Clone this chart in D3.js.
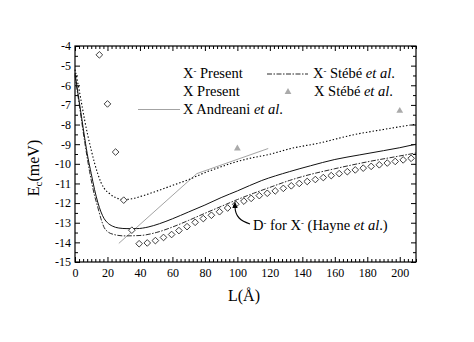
<!DOCTYPE html>
<html><head><meta charset="utf-8">
<script src="https://cdn.jsdelivr.net/npm/d3@7"></script>
<style>body{margin:0;background:#fff} svg text{font-family:"Liberation Serif","Times New Roman",Times,serif;}</style>
</head><body><svg id="c" width="474" height="342"></svg>
<script>
// ---- data ----
const xMinusPresentL = [0,2,4,6,8,10,12,14,16,18,20,23,27,32,38,45,52,60,70,80,90,100,115,132,145,160,175,190,200,210];
const xMinusPresentE = [-5.4,-6.5,-7.6,-8.7,-9.7,-10.5,-11.3,-11.95,-12.45,-12.8,-13.0,-13.17,-13.27,-13.3,-13.3,-13.22,-13.05,-12.8,-12.45,-12.1,-11.72,-11.38,-10.85,-10.4,-10.1,-9.78,-9.55,-9.33,-9.18,-9.0];
const xPresentL = [0,2,4,6,8,10,12,14,16,18,21,25,30,35,42,50,60,70,80,90,100,110,118,134,150,171,190,210];
const xPresentE = [-5.2,-6.0,-6.9,-7.8,-8.6,-9.3,-9.95,-10.5,-10.95,-11.25,-11.5,-11.72,-11.82,-11.78,-11.62,-11.4,-11.1,-10.8,-10.45,-10.15,-9.88,-9.68,-9.55,-9.2,-8.95,-8.53,-8.25,-7.98];
const xMinusStebeL = [0,3,6,9,12,14,16,18,20,24,30,40,50,60,70,80,90,100,110,120,132,140,160,180,200,210];
const xMinusStebeE = [-5.5,-7.2,-8.9,-10.4,-11.6,-12.2,-12.8,-13.25,-13.45,-13.6,-13.67,-13.65,-13.5,-13.22,-12.88,-12.52,-12.17,-11.82,-11.5,-11.2,-10.85,-10.65,-10.25,-9.9,-9.6,-9.45];
const xAndreaniL = [27,75,119];
const xAndreaniE = [-14.05,-10.5,-9.22];
const xStebeL = [100,200];
const xStebeE = [-9.22,-7.3];
const hayneL = [15,20,25,30,35,39.5,44.5,49.5,54.5,59.5,64,69,74,79,84,89,94,99,104,108.5,113.5,118.4,123.3,128.3,133.2,138.1,143,148,152.9,157.8,162.7,167.7,172.6,177.5,182.4,187.4,192.3,197.2,202.1,207];
const hayneE = [-4.45,-6.95,-9.4,-11.85,-13.38,-14.07,-14.03,-13.91,-13.75,-13.6,-13.4,-13.2,-12.98,-12.79,-12.62,-12.44,-12.25,-12.06,-11.9,-11.76,-11.62,-11.5,-11.38,-11.25,-11.12,-11.0,-10.9,-10.8,-10.7,-10.6,-10.5,-10.4,-10.31,-10.22,-10.13,-10.05,-9.96,-9.88,-9.8,-9.72];
const xTicks = [0,20,40,60,80,100,120,140,160,180,200];
const yTicks = [-15,-14,-13,-12,-11,-10,-9,-8,-7,-6,-5,-4];

// ---- layout ----
const svg = d3.select("#c");
const font = "Liberation Serif";
const x = d3.scaleLinear([0,210],[75,416]);
const y = d3.scaleLinear([-15,-4],[262,46]);
const zip = (a,b)=>a.map((v,i)=>[v,b[i]]);

const xMinor = d3.range(0,210.1,2.5).filter(v=>v%20!==0);
const yMinor = d3.range(-15,-4,0.5).filter(v=>v%1!==0);

function axis(gen, tr, vals, size, labels){
  const g = svg.append("g").attr("transform",tr)
    .call(gen.tickValues(vals).tickSizeInner(size).tickSizeOuter(0).tickPadding(labels?labels:3)
      .tickFormat(labels? (d=>String(d)) : ()=>""));
  g.attr("font-family",null);
  g.select(".domain").remove();
  g.selectAll("line").attr("stroke","#000").attr("stroke-width",1);
  g.selectAll("text").attr("font-family",font).attr("font-size",12).attr("fill","#000");
  return g;
}
axis(d3.axisBottom(x),"translate(0,262)",xTicks,-5,6);
axis(d3.axisBottom(x),"translate(0,262)",xMinor,-3,0);
axis(d3.axisTop(x),"translate(0,46)",xTicks,-5,0);
axis(d3.axisTop(x),"translate(0,46)",xMinor,-3,0);
axis(d3.axisLeft(y),"translate(75,0)",yTicks,-5,4);
axis(d3.axisLeft(y),"translate(75,0)",yMinor,-3,0);
axis(d3.axisRight(y),"translate(416,0)",yTicks,-5,0);
axis(d3.axisRight(y),"translate(416,0)",yMinor,-3,0);

svg.append("rect").attr("x",75).attr("y",46).attr("width",341).attr("height",216)
  .attr("fill","none").attr("stroke","#000").attr("stroke-width",1.2);

// lines
const smooth = d3.line().x(d=>x(d[0])).y(d=>y(d[1])).curve(d3.curveMonotoneX);
const straight = d3.line().x(d=>x(d[0])).y(d=>y(d[1]));
svg.append("path").attr("d",straight(zip(xAndreaniL,xAndreaniE)))
  .attr("fill","none").attr("stroke","#999").attr("stroke-width",0.9);
svg.append("path").attr("d",smooth(zip(xPresentL,xPresentE)))
  .attr("fill","none").attr("stroke","#000").attr("stroke-width",1.1).attr("stroke-dasharray","1.4,2");
svg.append("path").attr("d",smooth(zip(xMinusStebeL,xMinusStebeE)))
  .attr("fill","none").attr("stroke","#111").attr("stroke-width",0.9).attr("stroke-dasharray","5,1.5,1.5,1.5");
svg.append("path").attr("d",smooth(zip(xMinusPresentL,xMinusPresentE)))
  .attr("fill","none").attr("stroke","#111").attr("stroke-width",1.0);

// diamonds
const diamond = d3.symbol(d3.symbolSquare, 22)();
svg.append("g").selectAll("path").data(zip(hayneL,hayneE)).join("path")
  .attr("d",diamond).attr("transform",d=>`translate(${x(d[0])},${y(d[1])}) rotate(45)`)
  .attr("fill","#fff").attr("stroke","#333").attr("stroke-width",0.9);
// triangles
const tri = d3.symbol(d3.symbolTriangle, 20)();
svg.append("g").selectAll("path").data(zip(xStebeL,xStebeE)).join("path")
  .attr("d",tri).attr("transform",d=>`translate(${x(d[0])},${y(d[1])})`).attr("fill","#aaa");

function rich(t, parts){
  parts.forEach(([s,st])=>{
    const sp = t.append("tspan").text(s);
    if(st==='s'){ sp.attr("font-size","0.6em").attr("baseline-shift","45%"); }
    if(st==='b'){ sp.attr("font-size","0.7em").attr("baseline-shift","-25%"); }
    if(st==='i'){ sp.attr("font-style","italic"); }
  });
  return t;
}
function label(xp, yp, parts, size){
  const t = svg.append("text").attr("x",xp).attr("y",yp).attr("font-family",font)
    .attr("font-size",size).attr("fill","#000");
  return rich(t, parts);
}
// legend
label(183,78,[["X"],["-","s"],[" Present"]],14.5);
label(183,95.5,[["X Present"]],14.5);
label(183,113.5,[["X Andreani "],["et al","i"],["."]],14.5);
svg.append("line").attr("x1",138).attr("x2",180).attr("y1",109.5).attr("y2",109.5)
  .attr("stroke","#999").attr("stroke-width",0.9);
svg.append("line").attr("x1",267).attr("x2",308).attr("y1",74).attr("y2",74)
  .attr("stroke","#111").attr("stroke-width",0.9).attr("stroke-dasharray","5,1.5,1.5,1.5");
label(313,78,[["X"],["-","s"],[" Stébé "],["et al","i"],["."]],14.5);
svg.append("path").attr("d",tri).attr("transform","translate(288,92)").attr("fill","#aaa");
label(314,95.5,[["X Stébé "],["et al","i"],["."]],14.5);

// annotation
label(253,230,[["D"],["-","s"],[" for X"],["-","s"],[" (Hayne "],["et al","i"],[".)"]],14.5);
svg.append("path").attr("d","M250,224 C241,221 235,217 235,206")
  .attr("fill","none").attr("stroke","#000").attr("stroke-width",1.1);
svg.append("path").attr("d","M235,201.5 L232.3,208 L237.7,208 Z").attr("fill","#000");

// axis titles
label(244,301,[["L(Å)"]],16).attr("text-anchor","middle");
const yt = svg.append("text").attr("transform","translate(39,168) rotate(-90)")
  .attr("text-anchor","middle").attr("font-family",font).attr("font-size",16).attr("fill","#000");
rich(yt,[["E"],["c","b"],["(meV)"]]);
</script></body></html>
